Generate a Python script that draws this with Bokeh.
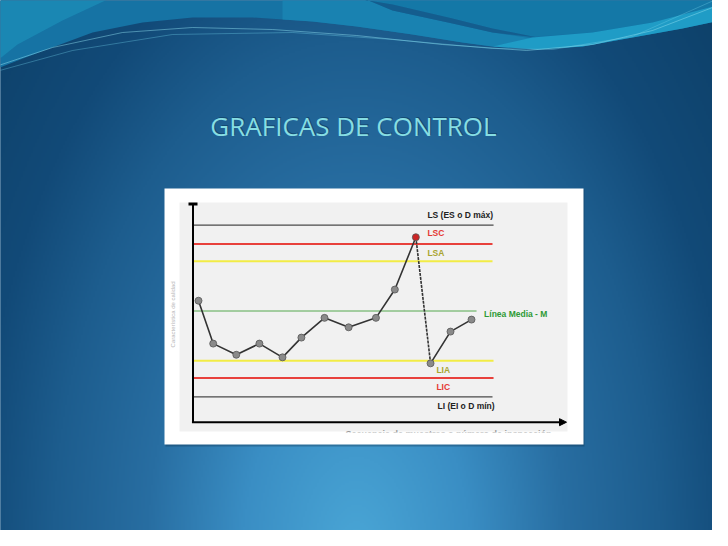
import numpy as np
from bokeh.plotting import figure
from bokeh.models import Range1d, Arrow, NormalHead, TeeHead
from bokeh.core.properties import value
from bokeh.embed import file_html
from bokeh.resources import INLINE

# ---------------- data ----------------
titulo = "GRAFICAS DE CONTROL"
muestras = [1.0, 1.7, 2.8, 3.9, 5.0, 5.9, 7.0, 8.15, 9.45, 10.35, 11.35, 12.05, 13.0, 14.0]
valores = [56.0, 31.0, 24.5, 31.0, 23.0, 34.5, 46.0, 40.5, 46.0, 62.5, 93.0, 19.5, 38.0, 45.0]
limites_nombres = ["LS (ES o D máx)", "LSC", "LSA", "Línea Media - M", "LIA", "LIC", "LI (EI o D mín)"]
limites_valores = [100, 89, 79, 50, 21, 11, 0]
LSC = limites_valores[1]
LIC = limites_valores[5]
eje_x_texto = "Secuencia de muestras o número de inspección"
eje_y_texto = "Característica de calidad"

# ---------------- styles ----------------
lim_colores = ["#4a4a4a", "#e8413c", "#f2ec45", "#55a84f", "#f2ec45", "#e8413c", "#4a4a4a"]
lim_anchos = [1.2, 2.0, 2.0, 1.0, 2.0, 2.0, 1.2]
lim_fin = [15.05, 15.0, 15.0, 14.24, 15.05, 15.05, 15.0]
lab_colores = ["#222222", "#e53935", "#a9a430", "#2e9a35", "#a9a430", "#e53935", "#222222"]
lab_x = [11.9, 11.9, 11.9, 14.6, 12.33, 12.33, 12.38]
lab_y = [106.1, 95.3, 83.7, 48.5, 15.5, 6.0, -5.2]

W_FIG, H_FIG = 712, 530
def PY(py):  # page pixel y -> main y (upwards)
    return 546.0 - py

p = figure(width=W_FIG, height=H_FIG, x_range=Range1d(8, 720), y_range=Range1d(8, 538),
           output_backend="svg", toolbar_location=None,
           x_axis_location=None, y_axis_location=None, min_border=0)
p.xgrid.grid_line_color = None
p.ygrid.grid_line_color = None
p.outline_line_color = None
p.background_fill_color = "#1d5f8f"
p.border_fill_color = "white"

# chart coordinate system (secondary ranges)
CX0, CXS = 185.0, 21.0
CY0, CYS = 404.3, 1.716
base = 546.0 - CY0
p.extra_x_ranges = {"c": Range1d((8 - CX0) / CXS, (720 - CX0) / CXS)}
p.extra_y_ranges = {"c": Range1d((8 - base) / CYS, (538 - base) / CYS)}
kw = dict(x_range_name="c", y_range_name="c")

# ---------------- slide background ----------------
H, W = 273, 364
xs = (np.arange(W) + 0.5) * 728.0 / W
ys = 546.0 - (np.arange(H) + 0.5) * 546.0 / H
XX, YY = np.meshgrid(xs, ys)
d = np.sqrt(((XX - 364) / 380.0) ** 2 + ((YY - 560) / 640.0) ** 2)
stops = [0, 0.3, 0.55, 0.8, 1.0, 1.3]
R = np.interp(d, stops, [74, 58, 40, 29, 18, 13])
G = np.interp(d, stops, [166, 142, 110, 93, 74, 64])
B = np.interp(d, stops, [214, 196, 162, 142, 120, 104])
img = np.zeros((H, W, 4), dtype=np.uint8)
img[..., 0] = R; img[..., 1] = G; img[..., 2] = B; img[..., 3] = 255
p.image_rgba(image=[img.view(np.uint32).reshape(H, W)], x=0, y=0, dw=728, dh=546)

# top waves
bnd = [(0, 78), (33, 65), (100, 40), (150, 30), (200, 25), (260, 25), (320, 29), (364, 34),
       (420, 42), (470, 50), (500, 54), (545, 57), (590, 54), (640, 45), (690, 36), (728, 28)]
top = bnd + [(728, 0), (0, 0)]
p.patch([a for a, b in top], [PY(b) for a, b in top], fill_color="#1673a4", line_color=None)
hl = [(0, 0), (130, 0), (70, 28), (25, 52), (0, 72)]
p.patch([a for a, b in hl], [PY(b) for a, b in hl], fill_color="#1b8cb6", fill_alpha=0.8, line_color=None)
mid = [(290, 0), (357, 0), (400, 18), (460, 31), (500, 40), (540, 46), (500, 54), (470, 50),
       (420, 42), (364, 34), (320, 29), (290, 27)]
p.patch([a for a, b in mid], [PY(b) for a, b in mid], fill_color="#1a84b3", fill_alpha=0.9, line_color=None)
ur = [(327, 0), (400, 12), (460, 26), (500, 36), (540, 44), (600, 40), (660, 30), (728, 12), (728, 0)]
p.patch([a for a, b in ur], [PY(b) for a, b in ur], fill_color="#1478a7", line_color=None)
rib = [(327, 0), (400, 12), (460, 26), (500, 36), (545, 45), (500, 40), (460, 31), (400, 18), (357, 0)]
p.patch([a for a, b in rib], [PY(b) for a, b in rib], fill_color="#145d8e", line_color=None)
cy = [(540, 45), (600, 40), (660, 30), (728, 12), (728, 28), (690, 36), (640, 45), (590, 54),
      (545, 57), (500, 54)]
p.patch([a for a, b in cy], [PY(b) for a, b in cy], fill_color="#1f9cc6", line_color=None)
l1 = [(0, 75), (60, 55), (130, 40), (200, 35), (280, 37), (364, 43), (450, 52), (534, 58),
      (600, 52), (660, 38), (728, 12)]
p.line([a for a, b in l1], [PY(b) for a, b in l1], line_color="#8fe0f0", line_alpha=0.6, line_width=0.8)
l2 = [(0, 80), (80, 58), (180, 42), (300, 40), (400, 47), (500, 56), (560, 57), (640, 44), (728, 5)]
p.line([a for a, b in l2], [PY(b) for a, b in l2], line_color="#6fd0e8", line_alpha=0.45, line_width=0.8)

# title
p.text(x=[362], y=[PY(132)], text=[titulo], text_align="center", text_baseline="alphabetic",
       text_font=value("Open Sans"), text_font_size="26px", text_color="#0c3a5c", text_alpha=0.6)
p.text(x=[361], y=[PY(133)], text=[titulo], text_align="center", text_baseline="alphabetic",
       text_font=value("Open Sans"), text_font_size="26px", text_color="#86dde3")

# picture card
p.quad(left=[173], right=[592], top=[PY(197)], bottom=[PY(454)], fill_color="#0b2f4a", fill_alpha=0.35, line_color=None)
p.quad(left=[172], right=[591], top=[PY(196)], bottom=[PY(452)], fill_color="white", line_color=None)
p.quad(left=[187], right=[575], top=[PY(210)], bottom=[PY(439)], fill_color="#f1f1f1", line_color=None)

# faint axis titles (cut off in the picture)
p.text(x=[-0.2], y=[48], text=[eje_y_texto], angle=np.pi / 2, text_align="center", text_baseline="middle",
       text_font=value("Liberation Sans"), text_font_size="6px", text_color="#b5b5b5", **kw)
p.text(x=[(456 - CX0) / CXS], y=[(CY0 - 436.5) / CYS], text=[eje_x_texto], text_align="center",
       text_baseline="top", text_font=value("Liberation Sans"), text_font_size="9px",
       text_color="#9a9a9a", text_font_style="bold", **kw)
p.quad(left=[300], right=[575], top=[PY(440)], bottom=[PY(451)], fill_color="white", line_color=None)

# control limit lines
x_ini = (201 - CX0) / CXS
p.segment(x0=[x_ini] * len(limites_valores), y0=limites_valores, x1=lim_fin, y1=limites_valores,
          line_color=lim_colores, line_width=lim_anchos, **kw)

# axes
ax_x = (200.5 - CX0) / CXS
ax_y = (CY0 - 429.7) / CYS
p.add_layout(Arrow(x_start=ax_x, y_start=ax_y, x_end=ax_x, y_end=(CY0 - 211.5) / CYS,
                   line_width=2, line_color="black",
                   end=TeeHead(size=9, line_width=3, line_color="black"), **kw))
p.add_layout(Arrow(x_start=ax_x - 0.05, y_start=ax_y, x_end=(574 - CX0) / CXS, y_end=ax_y,
                   line_width=2, line_color="black",
                   end=NormalHead(size=7, fill_color="black", line_color="black"), **kw))

# series
k = int(np.argmax(valores))
p.line(muestras[:k + 1], valores[:k + 1], line_color="#333333", line_width=1.6, **kw)
p.line(muestras[k:k + 2], valores[k:k + 2], line_color="#333333", line_width=1.6, line_dash="3 1", **kw)
p.line(muestras[k + 1:], valores[k + 1:], line_color="#333333", line_width=1.6, **kw)
colores = ["#cc2525" if (v > LSC or v < LIC) else "#8a8a8a" for v in valores]
p.scatter(muestras, valores, size=7, fill_color=colores, line_color="#555555", line_width=0.8, **kw)

# limit labels
p.text(x=lab_x, y=lab_y, text=limites_nombres, text_color=lab_colores, text_align="left",
       text_baseline="middle", text_font=value("Liberation Sans"), text_font_size="8.5px",
       text_font_style="bold", **kw)

open("out.html", "w").write(file_html(p, INLINE))
